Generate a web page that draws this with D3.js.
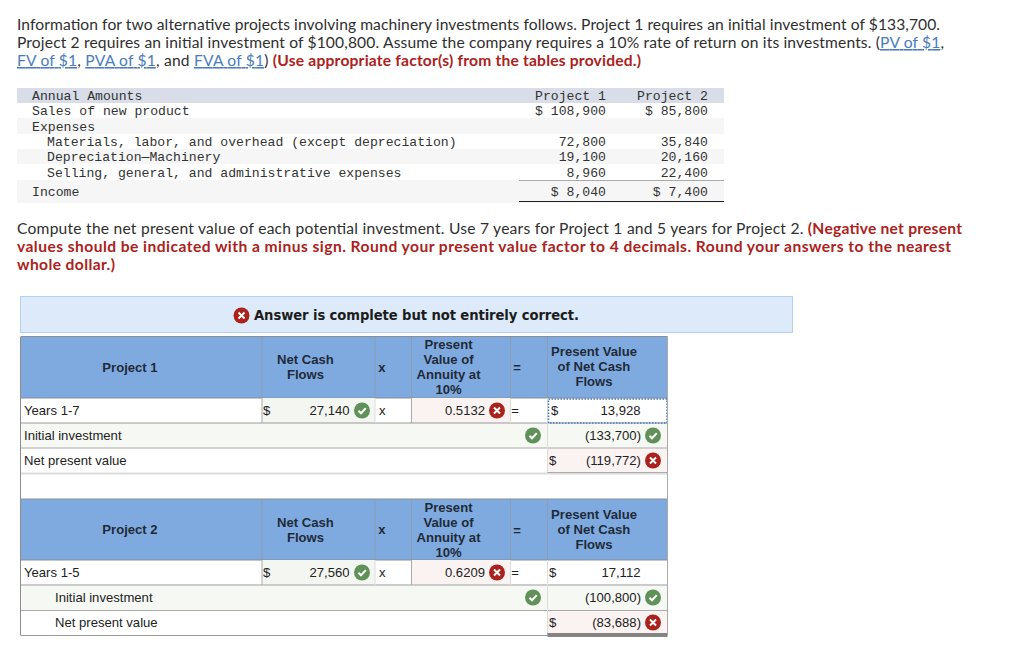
<!DOCTYPE html>
<html><head><meta charset="utf-8">
<script src="https://cdn.jsdelivr.net/npm/d3@7"></script>
<style>html,body{margin:0;padding:0;background:#fff}svg{display:block}</style>
</head><body><svg id="c" width="1024" height="661"></svg>
<script>
// ---- data ----
const intro = [
 [["Information for two alternative projects involving machinery investments follows. Project 1 requires an initial investment of $133,700.","t"]],
 [["Project 2 requires an initial investment of $100,800. Assume the company requires a 10% rate of return on its investments. (","t"],["PV of $1","l"],[",","t"]],
 [["FV of $1","l"],[", ","t"],["PVA of $1","l"],[", and ","t"],["FVA of $1","l"],[") ","t"],["(Use appropriate factor(s) from the tables provided.)","r"]]
];
const prompt2 = [
 [["Compute the net present value of each potential investment. Use 7 years for Project 1 and 5 years for Project 2. ","t"],["(Negative net present","r"]],
 [["values should be indicated with a minus sign. Round your present value factor to 4 decimals. Round your answers to the nearest","r"]],
 [["whole dollar.)","r"]]
];
const incomeLabels = ["Annual Amounts","Sales of new product","Expenses","  Materials, labor, and overhead (except depreciation)","  Depreciation\u2014Machinery","  Selling, general, and administrative expenses","Income"];
const project1Amounts = ["Project 1","$ 108,900","","72,800","19,100","8,960","$ 8,040"];
const project2Amounts = ["Project 2","$ 85,800","","35,840","20,160","22,400","$ 7,400"];
const banner = "Answer is complete but not entirely correct.";
const headNet = ["Net Cash","Flows"], headFactor = ["Present","Value of","Annuity at","10%"], headPV = ["Present Value","of Net Cash","Flows"];
const rowLabels1 = ["Years 1-7","Initial investment","Net present value"];
const rowLabels2 = ["Years 1-5","Initial investment","Net present value"];
const answers = [
 {title:"Project 1",labels:rowLabels1,cash:"27,140",factor:"0.5132",pv:"13,928",inv:"(133,700)",npv:"(119,772)"},
 {title:"Project 2",labels:rowLabels2,cash:"27,560",factor:"0.6209",pv:"17,112",inv:"(100,800)",npv:"(83,688)"}
];

// ---- drawing ----
const svg = d3.select("#c");
const SANS="Lato,'Open Sans',sans-serif", MONO="'Liberation Mono',monospace", ARIAL="'Liberation Sans',Arial,sans-serif";
const INK="#2f2f2f", RED="#ab221c", LINK="#4a7cbd", GREEN="#5f9159", BLUE="#7faadf", RULE="#9a9a9a";

function para(lines,y0,widths){
  lines.forEach((runs,i)=>{
    const t=svg.append("text").attr("x",17).attr("y",y0+i*18).attr("font-family",SANS).attr("font-size",15.6).attr("xml:space","preserve");
    if(widths[i]) t.attr("textLength",widths[i]).attr("lengthAdjust","spacing");
    runs.forEach(([s,k])=>{
      t.append("tspan").text(s)
       .attr("fill",k==="r"?RED:k==="l"?LINK:INK)
       .attr("font-weight",k==="r"?700:400)
       .style("text-decoration",k==="l"?"underline":null);
    });
  });
}
para(intro,30,[923,927,624]);
para(prompt2,234,[945,934,98]);

// income statement
const rowTops=[88,103,118,134,149,164,180], rowBot=[103,118,134,149,164,180,203];
const rowBase=[100,115,131,146,161,177,196];
const rowFill=["#d8dde7","#fff","#f6f6f7","#fff","#f6f6f7","#fff","#f6f6f7"];
incomeLabels.forEach((s,i)=>{
  svg.append("rect").attr("x",17).attr("y",rowTops[i]).attr("width",707).attr("height",rowBot[i]-rowTops[i]).attr("fill",rowFill[i]);
  const m=(t,x,a)=>svg.append("text").attr("x",x).attr("y",rowBase[i]).attr("font-family",MONO).attr("font-size",13.13).attr("fill","#333").attr("text-anchor",a).text(t);
  const ind=s.startsWith("  ");
  m(s.trim(),ind?47:32,"start");
  if(project1Amounts[i]) m(project1Amounts[i],606,"end");
  if(project2Amounts[i]) m(project2Amounts[i],708,"end");
});
const hl=(x1,x2,y,c,w)=>svg.append("line").attr("x1",x1).attr("x2",x2).attr("y1",y).attr("y2",y).attr("stroke",c).attr("stroke-width",w||1);
const vl=(x,y1,y2,c,w)=>svg.append("line").attr("x1",x).attr("x2",x).attr("y1",y1).attr("y2",y2).attr("stroke",c).attr("stroke-width",w||1);
hl(519,724,180.5,"#aaa",1); hl(519,724,201.5,"#222",1);

// icons
function icon(cx,cy,ok){
  const g=svg.append("g").attr("transform",`translate(${cx},${cy})`);
  g.append("circle").attr("r",8).attr("fill",ok?GREEN:RED);
  const p=ok?"M-3.6,0.2L-1,2.8L3.8,-2.4":"M-3,-3L3,3M3,-3L-3,3";
  g.append("path").attr("d",p).attr("fill","none").attr("stroke","#fff").attr("stroke-width",2);
}

// banner
svg.append("rect").attr("x",20.5).attr("y",296.5).attr("width",772).attr("height",36).attr("fill","#dceaf9").attr("stroke","#b4d0ec");
icon(241.5,315.5,false);
svg.append("text").attr("x",254).attr("y",320).attr("font-family","'DejaVu Sans',Verdana,sans-serif").attr("font-weight",700).attr("font-size",13.2).attr("fill","#1c1c1c").attr("textLength",325).text(banner);

// answer tables
const X={l:21,net:262,x:375,f:411.5,eq:510.5,pv:547.5,r:667.5};
function txt(s,x,y,o={}){
  return svg.append("text").attr("x",x).attr("y",y).attr("font-family",ARIAL).attr("font-size",13.1)
    .attr("fill",o.c||"#222").attr("font-weight",o.b?700:400).attr("text-anchor",o.a||"start").text(s);
}
function stack(lines,x,y){ lines.forEach((s,i)=>txt(s,x,y+i*15,{b:1,a:"middle",c:"#1f2a38"})); }

const layouts=[
 {hTop:336.5,hBot:398,rows:[398,423,448,473],base:[415,440,465],rule:"#999",indent:24},
 {hTop:499,hBot:560,rows:[560,585,610.5,635.5],base:[577,602,627],rule:"#ccc",indent:55}
];
answers.forEach((d,k)=>{
  const L=layouts[k], [r0,r1,r2,r3]=L.rows, dh=L.hTop-336.5;
  svg.append("rect").attr("x",X.l).attr("y",L.hTop).attr("width",X.r-X.l).attr("height",L.hBot-L.hTop).attr("fill",BLUE);
  [X.net,X.x,X.f,X.eq,X.pv].forEach(x=>vl(x,L.hTop,L.hBot,"#8d9db3"));
  hl(X.l,X.r,L.hTop,"#8a8f96"); hl(X.l,X.r,L.hBot,"#8a8f96");
  txt(d.title,130,371.5+dh,{b:1,a:"middle",c:"#1f2a38"});
  stack(headNet,305.5,364+dh);
  txt("x",382,371.5+dh,{b:1,a:"middle",c:"#1f2a38"});
  stack(headFactor,448.5,349+dh);
  txt("=",517,372+dh,{b:1,a:"middle",c:"#1f2a38"});
  stack(headPV,594,356+dh);

  // row fills
  svg.append("rect").attr("x",X.net).attr("y",r0).attr("width",X.x-X.net).attr("height",r1-r0).attr("fill","#f3f6f1");
  svg.append("rect").attr("x",X.f).attr("y",r0).attr("width",X.eq-X.f).attr("height",r1-r0).attr("fill","#faf3f2");
  svg.append("rect").attr("x",X.l).attr("y",r1).attr("width",X.r-X.l).attr("height",r2-r1).attr("fill","#f6f8f4");
  svg.append("rect").attr("x",X.pv).attr("y",r2).attr("width",X.r-X.pv).attr("height",r3-r2).attr("fill","#faf3f2");

  // row rules
  hl(X.l,X.r,r1,L.rule,k?2:1); hl(X.l,X.r,r2,"#aaa");
  [X.net,X.f].forEach(x=>vl(x,r0,r1,"#aaa"));
  [X.x,X.eq].forEach(x=>vl(x,r0,r1,"#ddd"));
  vl(X.pv,r0,r3,"#ddd");

  // labels
  txt(d.labels[0],24,L.base[0]);
  txt(d.labels[1],L.indent,L.base[1]);
  txt(d.labels[2],L.indent,L.base[2]);

  // row 1
  const c0=L.base[0]-4.5, c1=L.base[1]-4.5, c2=L.base[2]-4.5;
  txt("$",263,L.base[0]);
  txt(d.cash,349.5,L.base[0],{a:"end"}); icon(362,c0,true);
  txt("x",379,L.base[0]);
  txt(d.factor,485,L.base[0],{a:"end"}); icon(497,c0,false);
  txt("=",515,L.base[0],{a:"middle"});
  txt("$",k?549:551,L.base[0]);
  txt(d.pv,640.5,L.base[0],{a:"end"});
  icon(533,c1,true);
  txt(d.inv,641,L.base[1],{a:"end"}); icon(653,c1,true);
  txt("$",549,L.base[2]);
  txt(d.npv,641,L.base[2],{a:"end"}); icon(653,c2,false);

  if(k===0){
    svg.append("rect").attr("x",548.5).attr("y",399).attr("width",118.5).attr("height",24).attr("fill","none")
      .attr("stroke","#3d78c4").attr("stroke-width",1.5).attr("stroke-dasharray","1.5,1.5");
    hl(X.l,X.r,r3+0.5,"#dcdcdc",2);
    hl(X.pv,X.r,r3-0.5,"#aaa",1);
  } else {
    hl(X.l,X.pv,r3,"#999",1);
    hl(X.pv,X.r,r3-1.5,"#111",1); hl(X.pv,X.r,r3+0.5,"#111",1);
  }
});
// outer frame
vl(X.l-0.5,336.5,635.5,"#8d8d8d",1);
vl(X.r,336.5,635.5,"#aaa",1);
</script></body></html>
